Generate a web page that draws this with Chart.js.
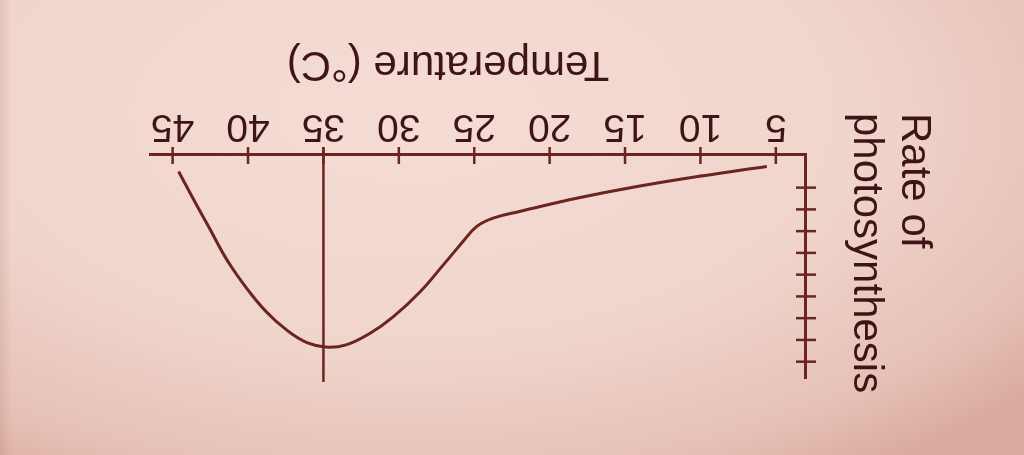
<!DOCTYPE html>
<html>
<head>
<meta charset="utf-8">
<script src="https://cdn.jsdelivr.net/npm/chart.js@4.4.1/dist/chart.umd.min.js"></script>
<style>
  html, body { margin: 0; padding: 0; width: 1024px; height: 455px; overflow: hidden; }
  body {
    background:
      linear-gradient(90deg, rgba(150,90,80,0.15) 0px, rgba(150,90,80,0) 12px),
      radial-gradient(ellipse 80% 95% at 40% 25%, #f4dcd4 0%, #f0d5cc 55%, #e6c0b5 85%, #d9aa9d 100%);
  }
  #wrap { position: absolute; left: 0; top: 0; width: 1024px; height: 455px; transform: rotate(180deg); }
  canvas { display: block; }
</style>
</head>
<body>
<div id="wrap"><canvas id="c" width="1024" height="455"></canvas></div>
<script>
// ---- data ----
const temperatures = [5.6, 9.8, 14.2, 18.7, 22.0, 23.75, 24.85, 25.75, 27.05, 28.6, 30.4, 31.9, 33.5, 34.9, 36.1, 37.45, 38.8, 40.1, 41.4, 42.5, 43.6, 44.6];
const rates        = [0.03, 0.45, 0.95, 1.56, 2.10, 2.40, 2.79, 3.48, 4.55, 5.80, 6.95, 7.69, 8.23, 8.33, 8.12, 7.54, 6.70, 5.62, 4.32, 2.94, 1.56, 0.26];
const xTickValues  = [5, 10, 15, 20, 25, 30, 35, 40, 45];
const yTickValues  = [1, 2, 3, 4, 5, 6, 7, 8, 9];
const optimumTemp  = 35;
const optimumRange = [-0.85, 9.93];
const xTitle = 'Temperature (°C)';
const yTitle = ['Rate of', 'photosynthesis'];

const LINE = '#6c241e';
const TEXT = '#3e1418';
const FONT = '"Liberation Sans", Arial, Helvetica, sans-serif';

const curve = temperatures.map((t, i) => ({ x: t, y: rates[i] }));
const optimumLine = optimumRange.map(v => ({ x: optimumTemp, y: v }));

const crossTicks = {
  id: 'crossTicks',
  afterDraw(chart) {
    const ctx = chart.ctx;
    const xs = chart.scales.x, ys = chart.scales.y;
    ctx.save();
    ctx.strokeStyle = LINE;
    ctx.lineWidth = 2.5;
    const axisY = ys.getPixelForValue(ys.min);
    xs.ticks.forEach(t => {
      const px = xs.getPixelForValue(t.value);
      ctx.beginPath(); ctx.moveTo(px, axisY - 9); ctx.lineTo(px, axisY + 8); ctx.stroke();
    });
    const axisX = xs.getPixelForValue(xs.min);
    ys.ticks.forEach(t => {
      const py = ys.getPixelForValue(t.value);
      ctx.beginPath(); ctx.moveTo(axisX - 10, py); ctx.lineTo(axisX + 10, py); ctx.stroke();
    });
    // axis titles
    ctx.fillStyle = TEXT;
    ctx.font = '42px ' + FONT;
    ctx.textBaseline = 'alphabetic';
    ctx.textAlign = 'center';
    ctx.fillText(xTitle, (xs.left + xs.right) / 2 + 30, xs.bottom - 52);
    ctx.textAlign = 'left';
    const baseXs = [122, 170];
    yTitle.forEach((line, i) => {
      ctx.save();
      ctx.translate(baseXs[i], ys.bottom + 42);
      ctx.rotate(-Math.PI / 2);
      ctx.fillText(line, 0, 0);
      ctx.restore();
    });
    ctx.restore();
  }
};

new Chart(document.getElementById('c'), {
  type: 'scatter',
  data: {
    datasets: [
      { data: curve, showLine: true, borderColor: LINE, borderWidth: 3, pointRadius: 0,
        tension: 0.4, fill: false },
      { data: optimumLine, showLine: true, borderColor: LINE, borderWidth: 2.5, pointRadius: 0,
        clip: false, fill: false }
    ]
  },
  options: {
    responsive: false,
    devicePixelRatio: 1,
    animation: false,
    events: [],
    layout: { padding: { top: 77, right: 150, left: 0, bottom: 0 } },
    plugins: { legend: { display: false }, tooltip: { enabled: false } },
    scales: {
      x: {
        type: 'linear', min: 3, max: 46.5,
        afterBuildTicks: s => { s.ticks = xTickValues.map(v => ({ value: v })); },
        afterFit: s => { s.height = 155; },
        grid: { display: false, drawTicks: false },
        border: { display: true, color: LINE, width: 3 },
        ticks: { color: TEXT, padding: 6, font: { family: FONT, size: 39 }, maxRotation: 0, autoSkip: false }
      },
      y: {
        type: 'linear', min: -0.5, max: 9.75,
        afterBuildTicks: s => { s.ticks = yTickValues.map(v => ({ value: v })); },
        afterFit: s => { s.width = 218; },
        grid: { display: false, drawTicks: false },
        border: { display: true, color: LINE, width: 3 },
        ticks: { display: false }
      }
    }
  },
  plugins: [crossTicks]
});
</script>
</body>
</html>
